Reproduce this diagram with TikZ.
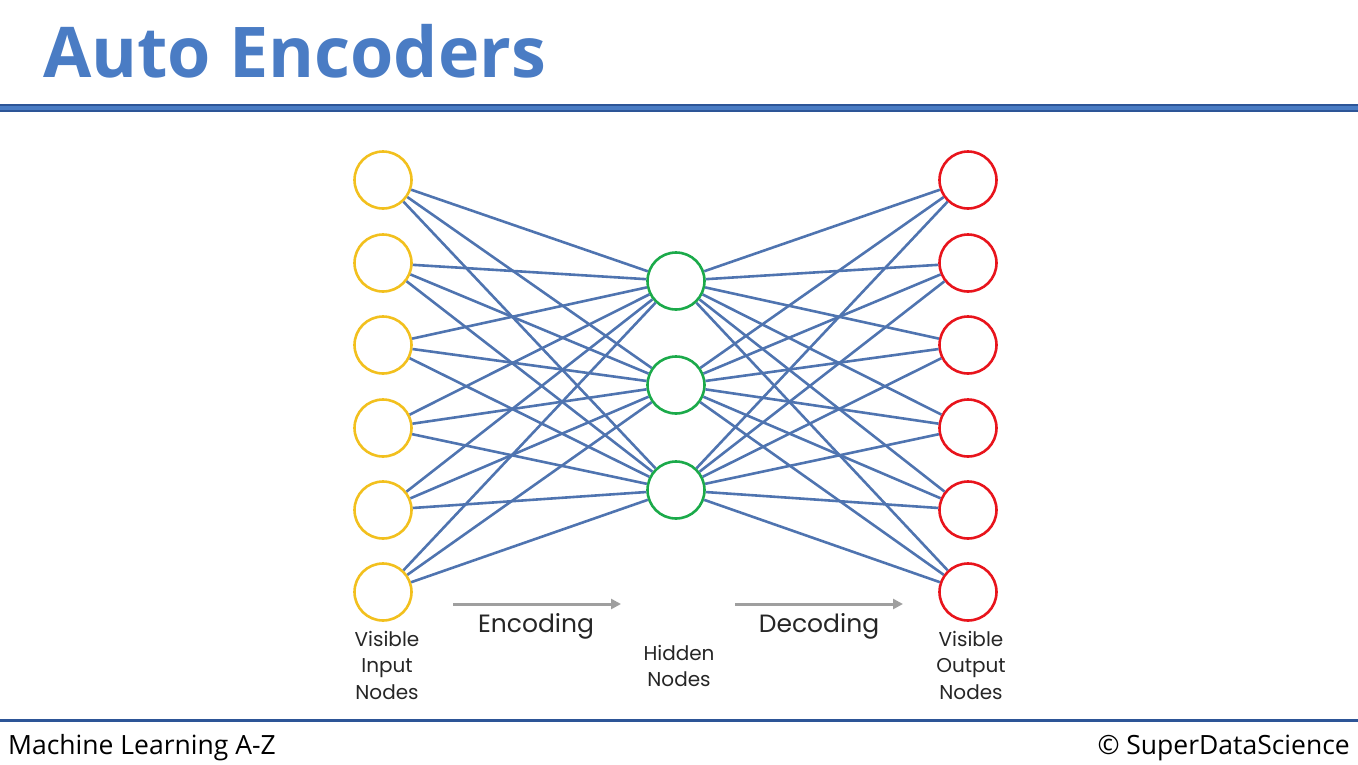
\documentclass[tikz,border=0pt]{standalone}
\usepackage{fontspec}
\setmainfont{Poppins}
\newfontfamily\footfont{Open Sans}
\usetikzlibrary{arrows.meta}
\definecolor{edgeblue}{HTML}{4F74B0}
\definecolor{titleblue}{HTML}{4A7CC4}
\definecolor{titledark}{HTML}{2D5597}
\definecolor{inyel}{HTML}{F2C01E}
\definecolor{hidgreen}{HTML}{1BAA4A}
\definecolor{outred}{HTML}{E8141C}
\tikzset{
  neuron/.style={circle, minimum size=57pt, inner sep=0pt, line width=2.6pt, fill=white},
  inp/.style={neuron, draw=inyel},
  hid/.style={neuron, draw=hidgreen},
  outp/.style={neuron, draw=outred},
  edge/.style={draw=edgeblue, line width=2.6pt},
  lbl/.style={align=center, font=\fontsize{20}{26.5}\selectfont, text=black!85},
  flow/.style={draw=gray!75, line width=3pt, -{Triangle[length=10pt,width=10pt]}}
}
\begin{document}
\begin{tikzpicture}[x=1pt,y=-1pt]
\useasboundingbox (0,0) rectangle (1358,764);
% title
\node[anchor=base west, inner sep=0pt, font=\footfont\fontsize{70}{74}\bfseries\selectfont, text=titleblue] (title) at (43,77) {Auto Encoders};
\fill[titledark] (0,104) rectangle (1358,112);
\fill[titleblue] (0,106) rectangle (1358,110);
% footer
\fill[titledark] (0,719) rectangle (1358,722);
\node[anchor=base west, inner sep=0pt, font=\footfont\fontsize{26.5}{28}\selectfont] (foot1) at (8,754) {Machine Learning A-Z};
\node[anchor=base east, inner sep=0pt, font=\footfont\fontsize{26.5}{28}\selectfont] (foot2) at (1350,754) {© SuperDataScience};
% nodes
\foreach \i/\y in {1/180,2/263,3/345,4/428,5/510,6/592}{
  \node[inp] (i\i) at (383,\y) {};
  \node[outp] (o\i) at (968,\y) {};
}
\foreach \j/\y in {1/281,2/385,3/490}{
  \node[hid] (h\j) at (676,\y) {};
}
\foreach \i in {1,...,6}{
  \foreach \j in {1,2,3}{
    \draw[edge] (i\i) -- (h\j);
    \draw[edge] (h\j) -- (o\i);
  }
}
% labels
\node[lbl] (lin) at (387,665) {Visible\\Input\\Nodes};
\node[lbl] (lhid) at (679,666) {Hidden\\Nodes};
\node[lbl] (lout) at (971,665) {Visible\\Output\\Nodes};
\coordinate (e1) at (453,604); \coordinate (e2) at (621,604);
\coordinate (d1) at (735,604); \coordinate (d2) at (903,604);
\draw[flow] (e1) -- (e2);
\draw[flow] (d1) -- (d2);
\node[font=\fontsize{25}{28}\selectfont, text=black!85] (enc) at (536,626) {Encoding};
\node[font=\fontsize{25}{28}\selectfont, text=black!85] (dec) at (819,626) {Decoding};
\end{tikzpicture}
\end{document}
